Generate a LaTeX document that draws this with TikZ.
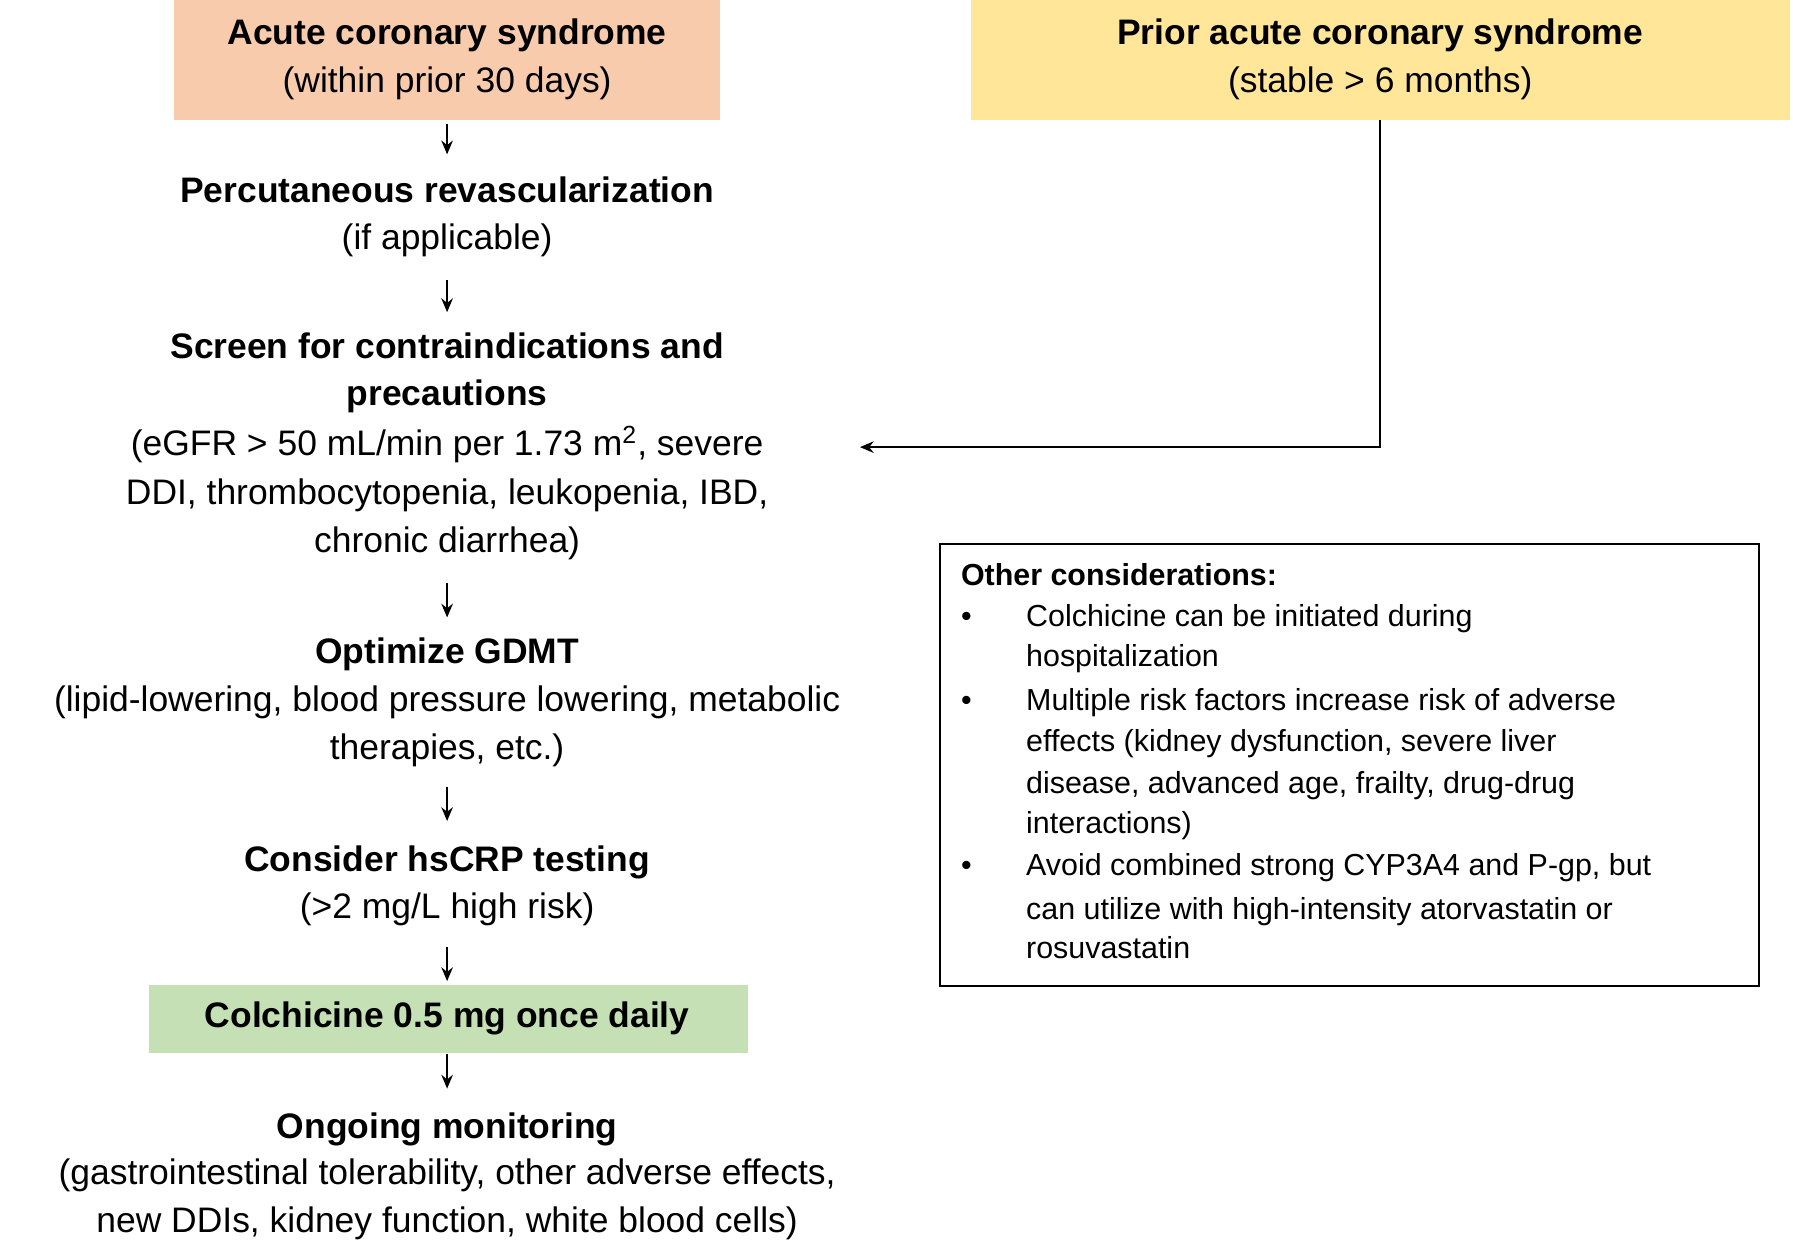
\documentclass[tikz,border=0pt]{standalone}
\usepackage{fontspec}
\setmainfont{Liberation Sans}
\usetikzlibrary{arrows.meta}
\definecolor{salmon}{HTML}{F8CBAD}
\definecolor{yel}{HTML}{FFE699}
\definecolor{grn}{HTML}{C5E0B4}
\tikzset{
  ln/.style={inner sep=0pt,text height=0.72em,text depth=0pt,anchor=center,font=\fontsize{15.5}{18}\selectfont},
  bl/.style={ln,font=\fontsize{15.5}{18}\selectfont\bfseries},
  sm/.style={inner sep=0pt,text height=0.72em,text depth=0pt,anchor=west,font=\fontsize{13.3}{16}\selectfont},
  smb/.style={sm,font=\fontsize{13.3}{16}\selectfont\bfseries},
  arr/.style={line width=1pt,-{Stealth[length=6pt,width=5pt]}},
}
\begin{document}
\begin{tikzpicture}[x=0.5pt,y=-0.5pt]
\useasboundingbox (0,0) rectangle (1568,1093);
\fill[salmon] (152,0) rectangle (630,105);
\fill[yel] (849,0) rectangle (1565,105);
\fill[grn] (130,861) rectangle (654,921);
\draw[line width=1pt] (822,476) rectangle (1538,862);
\node[bl] (a1) at (391,32) {Acute coronary syndrome};
\node[ln] (a2) at (391,74) {(within prior 30 days)};
\node[bl] (b1) at (1207,32) {Prior acute coronary syndrome};
\node[ln] (b2) at (1207,74) {(stable > 6 months)};
\node[bl] (p1) at (391,170) {Percutaneous revascularization};
\node[ln] (p2) at (391,211) {(if applicable)};
\node[bl] (s1) at (391,306) {Screen for contraindications and};
\node[bl] (s2) at (391,347) {precautions};
\node[ln] (s3) at (391,391) {(eGFR > 50 mL/min per 1.73 m\textsuperscript{2}, severe};
\node[ln] (s4) at (391,434) {DDI, thrombocytopenia, leukopenia, IBD,};
\node[ln] (s5) at (391,476) {chronic diarrhea)};
\node[bl] (o1) at (391,573) {Optimize GDMT};
\node[ln] (o2) at (391,615) {(lipid-lowering, blood pressure lowering, metabolic};
\node[ln] (o3) at (391,657) {therapies, etc.)};
\node[bl] (c1) at (391,755) {Consider hsCRP testing};
\node[ln] (c2) at (391,796) {(>2 mg/L high risk)};
\node[bl] (g1) at (391,891) {Colchicine 0.5 mg once daily};
\node[bl] (m1) at (391,988) {Ongoing monitoring};
\node[ln] (m2) at (391,1029) {(gastrointestinal tolerability, other adverse effects,};
\node[ln] (m3) at (391,1071) {new DDIs, kidney function, white blood cells)};
\coordinate (t1) at (391,108); \coordinate (h1) at (391,135);
\coordinate (t2) at (391,245); \coordinate (h2) at (391,273);
\coordinate (t3) at (391,510); \coordinate (h3) at (391,540);
\coordinate (t4) at (391,688); \coordinate (h4) at (391,718);
\coordinate (t5) at (391,828); \coordinate (h5) at (391,858);
\coordinate (t6) at (391,922); \coordinate (h6) at (391,952);
\foreach \i in {1,...,6} \draw[arr] (t\i) -- (h\i);
\coordinate (bb) at (1207,105); \coordinate (sc) at (752,391);
\draw[arr] (bb) |- (sc);
\node[smb] (k0) at (840,505) {Other considerations:};
\foreach \yy/\tx [count=\n] in {541/{Colchicine can be initiated during},576/{hospitalization},614/{Multiple risk factors increase risk of adverse},650/{effects (kidney dysfunction, severe liver},687/{disease, advanced age, frailty, drug-drug},722/{interactions)},758/{Avoid combined strong CYP3A4 and P-gp, but},797/{can utilize with high-intensity atorvastatin or},831/{rosuvastatin}}
  \node[sm] (k\n) at (897,\yy) {\tx};
\foreach \yy [count=\n] in {541,614,758} \node[sm] (d\n) at (840,\yy) {•};
\end{tikzpicture}
\end{document}
